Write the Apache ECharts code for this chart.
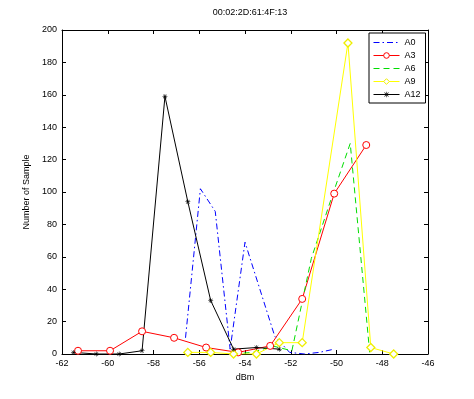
<!DOCTYPE html>
<html>
<head>
<meta charset="utf-8">
<script src="https://cdn.jsdelivr.net/npm/echarts@6/dist/echarts.min.js"></script>
<style>
html,body{margin:0;padding:0;background:#fff;}
#chart{width:474px;height:399px;}
</style>
</head>
<body>
<div id="chart"></div>
<script>
var titleText = "00:02:2D:61:4F:13";
var xTicks = [-62, -46, 2];
var yTicks = [0, 200, 20];

var a0X = [-56.6, -55.95, -55.3, -54.65, -54.0, -53.35, -52.7, -52.05, -51.4, -50.75, -50.1];
var a0Y = [10, 102, 88, 3, 69, 40, 11, 1, 0, 1, 3];

var a3X = [-61.3, -59.9, -58.5, -57.1, -55.7, -54.3, -52.9, -51.5, -50.1, -48.7];
var a3Y = [2, 2, 14, 10, 4, 1, 5, 34, 99, 129];

var a6X = [-54.5, -53.65, -52.8, -51.95, -51.1, -50.25, -49.4, -48.55];
var a6Y = [0, 1, 5, 2, 59, 95, 130, 1];

var a9X = [-56.5, -55.5, -54.5, -53.5, -52.5, -51.5, -49.5, -48.5, -47.5];
var a9Y = [1, 1, 0, 0, 7, 7, 192, 4, 0];

var a12X = [-61.5, -60.5, -59.5, -58.5, -57.5, -56.5, -55.5, -54.5, -53.5, -52.5];
var a12Y = [1, 0, 0, 2, 159, 94, 33, 3, 4, 3];

function zip(xs, ys) { return xs.map(function (x, i) { return [x, ys[i]]; }); }

var FONT = 'Liberation Sans';
var asterisk = 'path://M0,4.5L10,4.5L10,5.5L0,5.5Z M4.5,0L5.5,0L5.5,10L4.5,10Z M1,1.7L1.7,1L9,8.3L8.3,9Z M8.3,1L9,1.7L1.7,9L1,8.3Z M3.5,3.5L6.5,3.5L6.5,6.5L3.5,6.5Z';

var chart = echarts.init(document.getElementById('chart'), null, {renderer: 'canvas'});

function xAx(pos, show) {
  return {
    type: 'value', position: pos, min: xTicks[0], max: xTicks[1], interval: xTicks[2],
    name: show ? 'dBm' : '', nameLocation: 'middle', nameGap: 17,
    nameTextStyle: {fontFamily: FONT, fontSize: 9, color: '#000'},
    axisLine: {show: true, onZero: false, lineStyle: {color: '#000', width: 1}},
    axisTick: {show: true, inside: true, length: 4, lineStyle: {color: '#000'}},
    axisLabel: {show: show, fontFamily: FONT, fontSize: 9, color: '#000', margin: 5},
    splitLine: {show: false}
  };
}
function yAx(pos, show) {
  return {
    type: 'value', position: pos, min: yTicks[0], max: yTicks[1], interval: yTicks[2],
    name: show ? 'Number of Sample' : '', nameLocation: 'middle', nameGap: 22,
    nameTextStyle: {fontFamily: FONT, fontSize: 9, color: '#000'},
    axisLine: {show: true, onZero: false, lineStyle: {color: '#000', width: 1}},
    axisTick: {show: true, inside: true, length: 4, lineStyle: {color: '#000'}},
    axisLabel: {show: show, fontFamily: FONT, fontSize: 9, color: '#000', margin: 5},
    splitLine: {show: false}
  };
}

var option = {
  animation: false,
  backgroundColor: '#fff',
  title: {
    text: titleText, left: 245, top: 3, textAlign: 'center',
    textStyle: {fontFamily: FONT, fontSize: 9, fontWeight: 'normal', color: '#000'}
  },
  grid: {left: 62, right: 46, top: 30, bottom: 45, containLabel: false},
  xAxis: [xAx('bottom', true), xAx('top', false)],
  yAxis: [yAx('left', true), yAx('right', false)],
  legend: {
    orient: 'vertical', left: 369, top: 33,
    backgroundColor: '#fff', borderColor: '#000', borderWidth: 1,
    padding: [5, 5, 4, 4], itemGap: 4, itemWidth: 26, itemHeight: 7,
    lineStyle: {width: 1},
    textStyle: {fontFamily: FONT, fontSize: 9, color: '#000'},
    data: [
      {name: 'A0', itemStyle: {opacity: 0}},
      {name: 'A3', itemStyle: {borderWidth: 1}},
      {name: 'A6', itemStyle: {opacity: 0}},
      {name: 'A9', itemStyle: {borderWidth: 1}},
      {name: 'A12'}
    ]
  },
  series: [
    {name: 'A0', type: 'line', data: zip(a0X, a0Y), symbol: 'none',
     lineStyle: {color: '#0000ff', width: 1, type: [6, 3, 1.5, 3]}, itemStyle: {color: '#0000ff'}},
    {name: 'A3', type: 'line', data: zip(a3X, a3Y), symbol: 'circle', symbolSize: 7,
     lineStyle: {color: '#ff0000', width: 1}, itemStyle: {color: '#ffffff', borderColor: '#ff0000', borderWidth: 1}},
    {name: 'A6', type: 'line', data: zip(a6X, a6Y), symbol: 'none',
     lineStyle: {color: '#00dd00', width: 1, type: [6, 4]}, itemStyle: {color: '#00dd00'}},
    {name: 'A9', type: 'line', data: zip(a9X, a9Y), symbol: 'diamond', symbolSize: 8,
     lineStyle: {color: '#ffff00', width: 1}, itemStyle: {color: '#ffffff', borderColor: '#eeee00', borderWidth: 1.3}},
    {name: 'A12', type: 'line', data: zip(a12X, a12Y), symbol: asterisk, symbolSize: 5,
     lineStyle: {color: '#000', width: 1}, itemStyle: {color: '#000'}}
  ]
};
chart.setOption(option);
</script>
</body>
</html>
